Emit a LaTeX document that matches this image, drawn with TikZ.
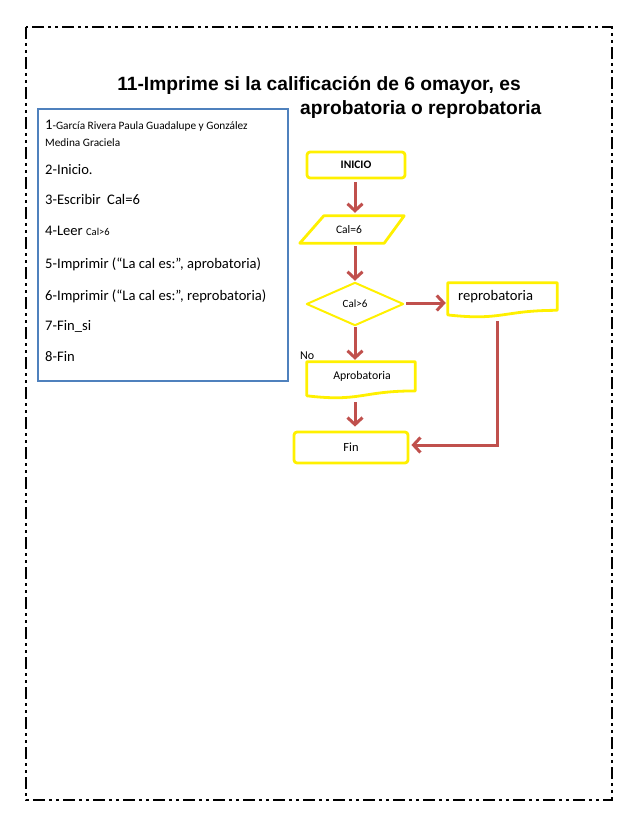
\documentclass[tikz,border=0pt]{standalone}
\usepackage{fontspec}
\setmainfont{Carlito}
\newfontfamily\arialf{Liberation Sans}
\usetikzlibrary{arrows.meta,calc}
\definecolor{ylw}{RGB}{255,240,0}
\definecolor{arred}{RGB}{192,80,77}
\definecolor{boxblue}{RGB}{79,129,189}
\begin{document}
\begin{tikzpicture}[x=1pt,y=-1pt,
  ybox/.style={draw=ylw,line width=2.8pt,line join=round},
  term/.style={ybox,rounded corners=3pt,minimum width=#1,minimum height=26pt,inner sep=0pt},
  blank/.style={draw=none,rectangle,inner sep=0pt},
  arr/.style={draw=arred,line width=3pt,-{Straight Barb[length=7pt,width=15pt,line width=3pt]}},
  ltxt/.style={anchor=base west,inner sep=0pt,font=\fontsize{14.6}{17}\selectfont},
  ttl/.style={inner sep=0pt,font=\arialf\bfseries\fontsize{19.2}{22}\selectfont}
]
\useasboundingbox (0,0) rectangle (638,826);
% page border
\draw[line width=2.5pt,dash pattern=on 12pt off 4pt on 3pt off 4pt on 3pt off 4pt] (26,27) rectangle (612,800);
% title
\node[ttl,anchor=base] (t1) at (319,91) {11-Imprime si la calificación de 6 omayor, es};
\node[ttl,anchor=base west] (t2) at (300,115) {aprobatoria o reprobatoria};
% left box
\node[draw=boxblue,line width=2pt,anchor=north west,minimum width=250pt,minimum height=272pt,inner sep=0pt] (lb) at (37,108) {};
\node[ltxt] (l1) at (45,130) {1\fontsize{11.3}{13}\selectfont -García Rivera Paula Guadalupe y González};
\node[ltxt,font=\fontsize{11.3}{13}\selectfont] (l1b) at (45,147) {Medina Graciela};
\node[ltxt] (l2) at (45,175) {2-Inicio.};
\node[ltxt] (l3) at (45,205) {3-Escribir\ \ Cal=6};
\node[ltxt] (l4) at (45,236) {4-Leer {\fontsize{10.5}{12}\selectfont Cal>6}};
\node[ltxt] (l5) at (45,268) {5-Imprimir (“La cal es:”, aprobatoria)};
\node[ltxt] (l6) at (45,300) {6-Imprimir (“La cal es:”, reprobatoria)};
\node[ltxt] (l7) at (45,330) {7-Fin\_si};
\node[ltxt] (l8) at (45,361) {8-Fin};
% flowchart
\node[term=98pt,font=\bfseries\fontsize{11.5}{13}\selectfont] (ini) at (356,165) {INICIO};
\node[blank,minimum width=90pt,minimum height=27pt,font=\fontsize{11.5}{13}\selectfont] (cal) at (349,229.5) {Cal=6};
\draw[ybox] ($(cal.north west)+(20,0)$) -- ($(cal.north east)+(10,0)$) -- ($(cal.south east)+(-10,0)$) -- ($(cal.south west)+(-4,0)$) -- cycle;
\node[blank,minimum width=96pt,minimum height=42pt,font=\fontsize{11}{13}\selectfont] (dec) at (355,304) {Cal>6};
\draw[ybox,line width=2pt] (dec.north) -- (dec.east) -- (dec.south) -- (dec.west) -- cycle;
\node[blank,minimum width=109pt,minimum height=34pt] (rep) at (502.5,300) {};
\node[anchor=west,inner sep=0pt,font=\fontsize{14.6}{17}\selectfont] (reptxt) at (458,297) {reprobatoria};
\draw[ybox] (rep.north west) -- (rep.north east) -- ($(rep.north east)!0.8!(rep.south east)$) .. controls ($(rep.north)!0.8!(rep.south)$) and ($(rep.north)!1.11!(rep.south)$) .. ($(rep.north west)!0.934!(rep.south west)$) -- cycle;
\node[blank,minimum width=108pt,minimum height=36pt] (apr) at (361,380) {};
\node[inner sep=0pt,font=\fontsize{11.8}{13}\selectfont] (aprtxt) at (362,376) {Aprobatoria};
\draw[ybox] (apr.north west) -- (apr.north east) -- ($(apr.north east)!0.8!(apr.south east)$) .. controls ($(apr.north)!0.8!(apr.south)$) and ($(apr.north)!1.11!(apr.south)$) .. ($(apr.north west)!0.934!(apr.south west)$) -- cycle;
\node[term=114pt,minimum height=31pt,font=\fontsize{12.5}{14}\selectfont] (fin) at (351,447.5) {Fin};
\node[anchor=base west,inner sep=0pt,font=\fontsize{12}{14}\selectfont] (no) at (300,359) {No};
\coordinate (rc) at (497,445);
% connectors
\draw[arr,shorten <=3pt,shorten >=3pt] (ini.south -| 355,0) -- (cal.north -| 355,0);
\draw[arr,shorten <=3pt,shorten >=2pt] (cal.south -| 355,0) -- (dec.north);
\draw[arr,shorten <=2pt,shorten >=2pt] (dec.south) -- (apr.north -| 355,0);
\draw[arr,shorten <=4pt,shorten >=4pt] (apr.south -| 355,0) -- (fin.north -| 355,0);
\draw[arr,shorten <=3pt,shorten >=2pt] (dec.east |- 0,303) -- (rep.west |- 0,303);
\draw[arr,line join=miter,shorten <=4pt,shorten >=2pt] (rep.south -| rc) -- (rc) -- (fin.east |- rc);
\end{tikzpicture}
\end{document}
